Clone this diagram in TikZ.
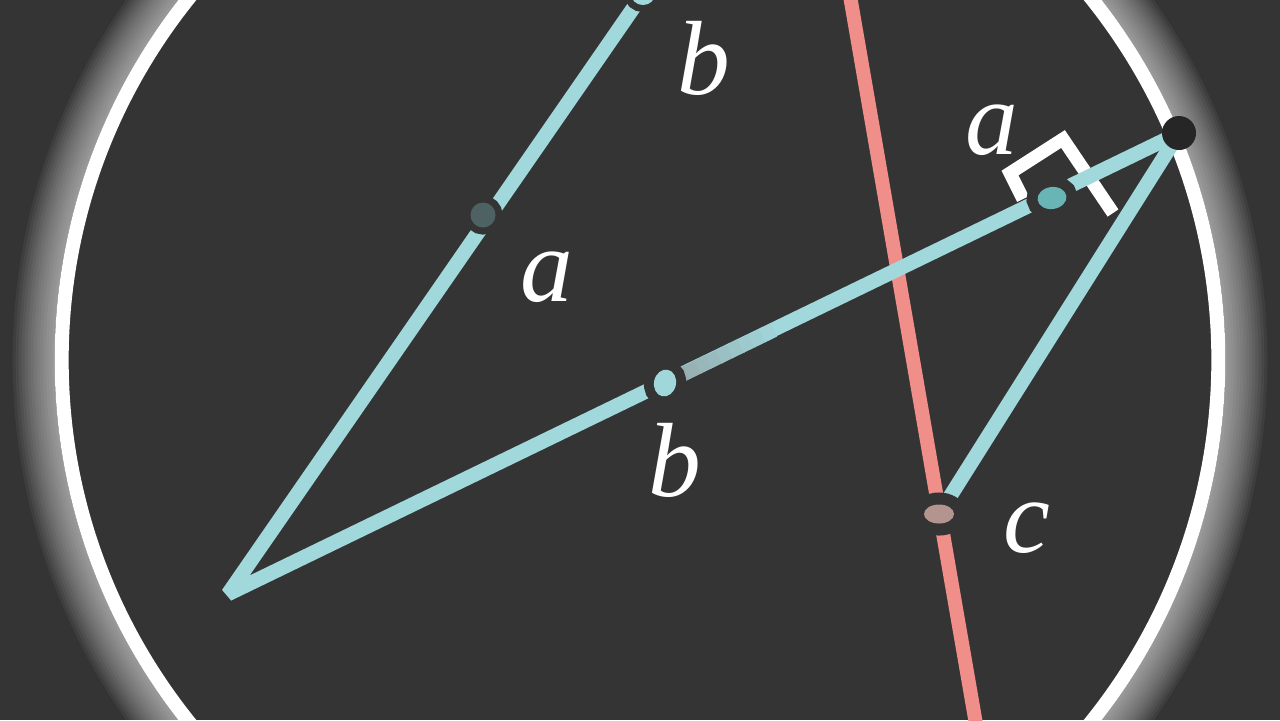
\documentclass[tikz,border=0pt]{standalone}
\usepackage{fontspec}
\setmainfont{Liberation Serif}
\usetikzlibrary{shapes.geometric, calc}

\definecolor{bg}{RGB}{52,52,52}
\definecolor{cyanline}{RGB}{160,216,220}
\definecolor{redline}{RGB}{240,142,138}
\definecolor{glint}{RGB}{150,168,170}

\begin{document}
\begin{tikzpicture}[x=0.01cm, y=-0.01cm]

\tikzset{seg/.style = {draw=cyanline, line width=0.145cm}}
\tikzset{dot/.style = {shape=ellipse, inner sep=0, preaction={draw=bg, line width=#1}}}
\tikzset{dot/.default = 0.14cm}
\tikzset{lab/.style = {text=white, inner sep=0, font=\fontsize{30}{31}\selectfont\itshape}}

%background and circle
\fill[bg] (0,0) rectangle (1280,720);
\clip (0,0) rectangle (1280,720);
\coordinate (O) at (640,360);
\foreach \w in {0.03,0.06,...,0.42}
  \draw[white, opacity=0.05, line width=\w cm] (O) circle [radius=5.85cm+0.5*\w cm];
\draw[white, line width=0.14cm] (O) circle [radius=5.78cm];

%points
\coordinate (T) at (643,-6);
\coordinate (A) at (228,594);
\coordinate (M1) at (483,215);
\coordinate (M2) at (665,383);
\coordinate (F) at (1052,198);
\coordinate (P) at (1179,133);
\coordinate (C) at (939,514);
\coordinate (R1) at (849,-10);
\coordinate (R2) at (977,730);

%red line
\draw[redline, line width=0.14cm] (R1) -- (R2);

%right angle
\draw[white, line width=0.13cm, line join=miter] (1023,199) -- (1010,173) -- (1063,139) -- (1113,213);

%cyan lines
\draw[seg, line join=bevel] (T) -- (A) -- (P);
\foreach \i [evaluate=\i as \p using int(100-10*\i)] in {0,...,9}
  \draw[line width=0.145cm, draw=glint!\p!cyanline] ($(M2)!{\i*0.021}!(P)$) -- ($(M2)!{\i*0.021+0.023}!(P)$);
\draw[seg] (P) -- (C);

%dots
\node[dot, fill=cyanline, minimum width=0.24cm, minimum height=0.22cm] (t) at (T) {};
\node[dot, fill={rgb,255:red,78;green,98;blue,100}, minimum width=0.25cm, minimum height=0.25cm] (m1) at (M1) {};
\node[dot=0.2cm, fill={rgb,255:red,160;green,215;blue,218}, minimum width=0.22cm, minimum height=0.27cm, rotate=-12] (m2) at (M2) {};
\node[dot=0.22cm, fill={rgb,255:red,105;green,180;blue,180}, minimum width=0.29cm, minimum height=0.22cm, rotate=8] (f) at (F) {};
\node[dot=0.24cm, fill={rgb,255:red,180;green,148;blue,142}, minimum width=0.3cm, minimum height=0.19cm] (c) at (C) {};
\node[circle, fill={rgb,255:red,38;green,38;blue,38}, minimum size=0.34cm, inner sep=0] (p) at (P) {};

%labels
\node[lab] (lb1) at (704,58) {b};
\node[lab] (la1) at (992,130) {a};
\node[lab] (la2) at (547,277) {a};
\node[lab] (lb2) at (675,460) {b};
\node[lab] (lc) at (1027,528) {c};

\end{tikzpicture}
\end{document}
